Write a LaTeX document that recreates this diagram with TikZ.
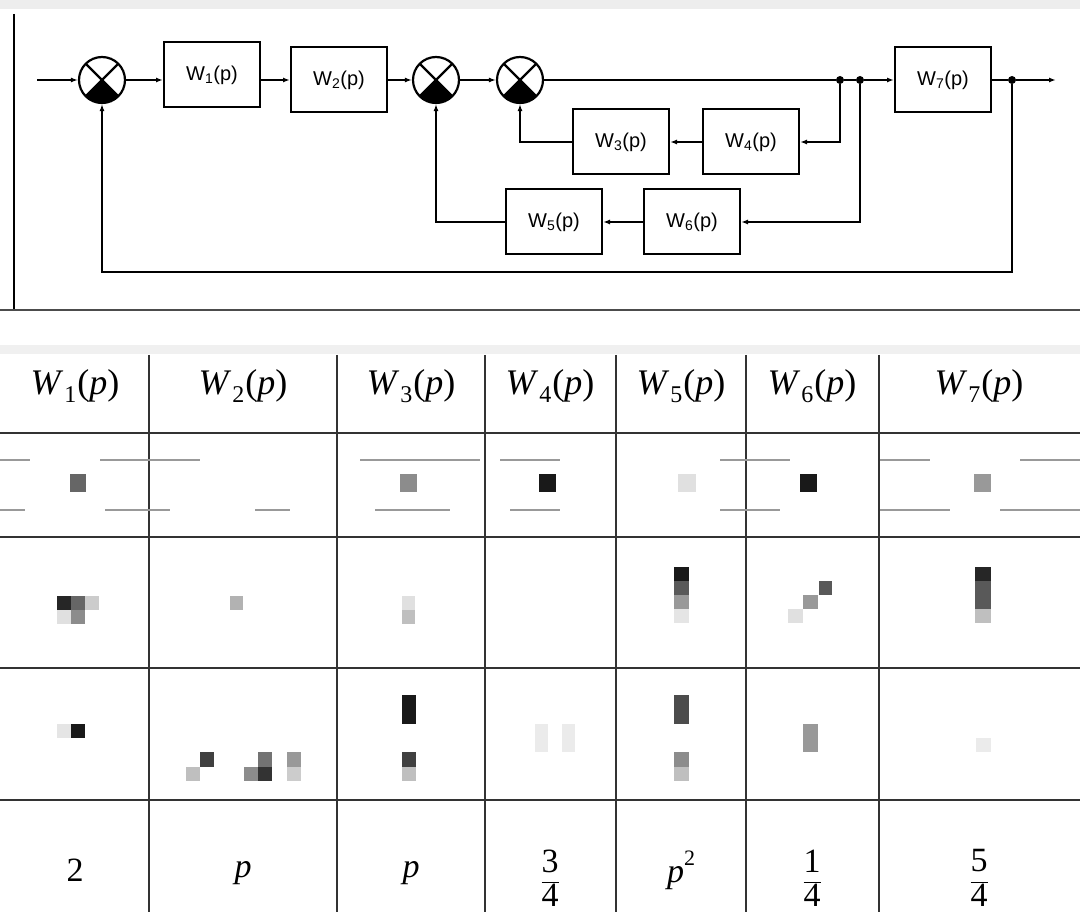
\documentclass[tikz,border=0pt]{standalone}
\usepackage{fontspec}
\setmainfont{Liberation Serif}
\setsansfont{Liberation Sans}
\usetikzlibrary{arrows.meta}
\newcommand{\Wi}[1]{\textit{W}\kern1pt\raisebox{-0.22em}{\fontsize{24}{24}\selectfont #1}\kern1pt(\textit{p})}
\newcommand{\fr}[2]{$\displaystyle\frac{\mbox{#1}}{\mbox{#2}}$}
\begin{document}
\begin{tikzpicture}[x=1pt,y=-1pt,
  blk/.style={draw,line width=2pt,minimum width=96pt,minimum height=65pt,font=\sffamily\fontsize{20}{22}\selectfont,inner sep=0pt},
  sumn/.style={circle,draw,line width=2.2pt,minimum size=46pt,inner sep=0pt},
  ln/.style={line width=1.6pt},
  arr/.style={ln,-{Latex[length=7pt,width=5pt]}},
  dotn/.style={circle,fill,inner sep=0pt,minimum size=8pt},
  hd/.style={font=\fontsize{36}{38}\selectfont},
  vl/.style={font=\fontsize{34}{36}\selectfont},
  tl/.style={line width=1.3pt,black!80}]
\useasboundingbox (0,0) rectangle (1080,912);
\fill[black!7] (0,0) rectangle (1080,9);
\fill[black!6] (0,345) rectangle (1080,354);
\draw[line width=1.2pt] (14,14) -- (14,310);
\draw[line width=1.2pt,black!70] (0,310) -- (1080,310);
% diagram
\foreach \n/\x in {s1/102,s2/436,s3/520}{
  \node[sumn] (\n) at (\x,80) {};
  \fill (\x,80) -- ++(45:23) arc (45:135:23) -- cycle;
  \draw[line width=2.2pt] (\x,80) +(45:23) -- +(-135:23) (\x,80) +(135:23) -- +(-45:23);
}
\node[blk] (w1) at (212,75) {W\textsubscript{1}(p)};
\node[blk] (w2) at (339,80) {W\textsubscript{2}(p)};
\node[blk] (w7) at (943,80) {W\textsubscript{7}(p)};
\node[blk] (w4) at (751,142) {W\textsubscript{4}(p)};
\node[blk] (w3) at (621,142) {W\textsubscript{3}(p)};
\node[blk] (w6) at (692,222) {W\textsubscript{6}(p)};
\node[blk] (w5) at (554,222) {W\textsubscript{5}(p)};
\node[dotn] (d1) at (840,80) {};
\node[dotn] (d2) at (860,80) {};
\node[dotn] (d3) at (1012,80) {};
\coordinate (in) at (37,80);
\coordinate (out) at (1056,80);
\draw[arr] (in) -- (s1);
\draw[arr] (s1) -- (w1.west|-s1);
\draw[arr] (w1.east|-s1) -- (w2);
\draw[arr] (w2) -- (s2);
\draw[arr] (s2) -- (s3);
\draw[ln] (s3) -- (d1) -- (d2);
\draw[arr] (d2) -- (w7);
\draw[ln] (w7) -- (d3);
\draw[arr] (d3) -- (out);
\draw[arr] (d1) |- (w4.east);
\draw[arr] (w4) -- (w3);
\draw[arr] (w3.west) -| (s3.south);
\draw[arr] (d2) |- (w6.east);
\draw[arr] (w6) -- (w5);
\draw[arr] (w5.west) -| (s2.south);
\draw[arr] (d3) |- (102,272) -- (s1.south);
% table
\draw[tl] (0,433) -- (1080,433) (0,537) -- (1080,537) (0,668) -- (1080,668) (0,800) -- (1080,800);
\foreach \x in {149,337,485,616,746,879}{\draw[tl] (\x,355) -- (\x,912);}
\draw[line width=1.2pt,black!40] (0,460) -- (30,460) (100,460) -- (200,460) (360,460) -- (480,460) (500,460) -- (560,460) (720,460) -- (790,460) (880,460) -- (930,460) (1020,460) -- (1080,460);
\draw[line width=1.2pt,black!40] (0,510) -- (25,510) (105,510) -- (170,510) (255,510) -- (290,510) (375,510) -- (450,510) (510,510) -- (560,510) (720,510) -- (780,510) (880,510) -- (950,510) (1000,510) -- (1080,510);
\foreach \x/\i in {75/1,243/2,411/3,550/4,681/5,812/6,979/7}{
  \node[hd] (h\i) at (\x,386) {\Wi{\i}};
}
\node[vl] (v1) at (75,870) {2};
\node[vl] (v2) at (243,873) {\textit{p}};
\node[vl] (v3) at (411,873) {\textit{p}};
\node[vl] (v4) at (550,878) {\fr{3}{4}};
\node[vl] (v5) at (681,870) {\textit{p}\raisebox{0.5em}{\fontsize{22}{22}\selectfont 2}};
\node[vl] (v6) at (812,878) {\fr{1}{4}};
\node[vl] (v7) at (979,878) {\fr{5}{4}};
% pixel blocks
\fill[black!60] (70,474) rectangle (86,492);
\fill[black!45] (400,474) rectangle (417,492);
\fill[black!90] (539,474) rectangle (556,492);
\fill[black!12] (678,474) rectangle (696,492);
\fill[black!90] (800,474) rectangle (817,492);
\fill[black!40] (974,474) rectangle (991,492);
\fill[black!85] (57,596) rectangle (71,610); \fill[black!60] (71,596) rectangle (85,610); \fill[black!20] (85,596) rectangle (99,610);
\fill[black!12] (57,610) rectangle (71,624); \fill[black!45] (71,610) rectangle (85,624);
\fill[black!30] (230,596) rectangle (243,610);
\fill[black!12] (402,596) rectangle (415,610); \fill[black!25] (402,610) rectangle (415,624);
\fill[black!90] (674,567) rectangle (689,581); \fill[black!65] (674,581) rectangle (689,595); \fill[black!40] (674,595) rectangle (689,609); \fill[black!10] (674,609) rectangle (689,623);
\fill[black!65] (819,581) rectangle (832,595); \fill[black!40] (803,595) rectangle (818,609); \fill[black!12] (788,609) rectangle (803,623);
\fill[black!85] (975,567) rectangle (991,581); \fill[black!65] (975,581) rectangle (991,609); \fill[black!25] (975,609) rectangle (991,623);
\fill[black!10] (57,724) rectangle (71,738); \fill[black!90] (71,724) rectangle (85,738);
\fill[black!75] (200,752) rectangle (214,767); \fill[black!25] (186,767) rectangle (200,781);
\fill[black!55] (258,752) rectangle (272,767); \fill[black!80] (258,767) rectangle (272,781); \fill[black!45] (244,767) rectangle (258,781);
\fill[black!40] (287,752) rectangle (301,767); \fill[black!20] (287,767) rectangle (301,781);
\fill[black!90] (402,695) rectangle (416,724); \fill[black!75] (402,752) rectangle (416,767); \fill[black!25] (402,767) rectangle (416,781);
\fill[black!8] (535,724) rectangle (548,752); \fill[black!8] (562,724) rectangle (575,752);
\fill[black!70] (674,695) rectangle (689,724); \fill[black!45] (674,752) rectangle (689,767); \fill[black!25] (674,767) rectangle (689,781);
\fill[black!40] (803,724) rectangle (818,752);
\fill[black!8] (976,738) rectangle (991,752);
\end{tikzpicture}
\end{document}
